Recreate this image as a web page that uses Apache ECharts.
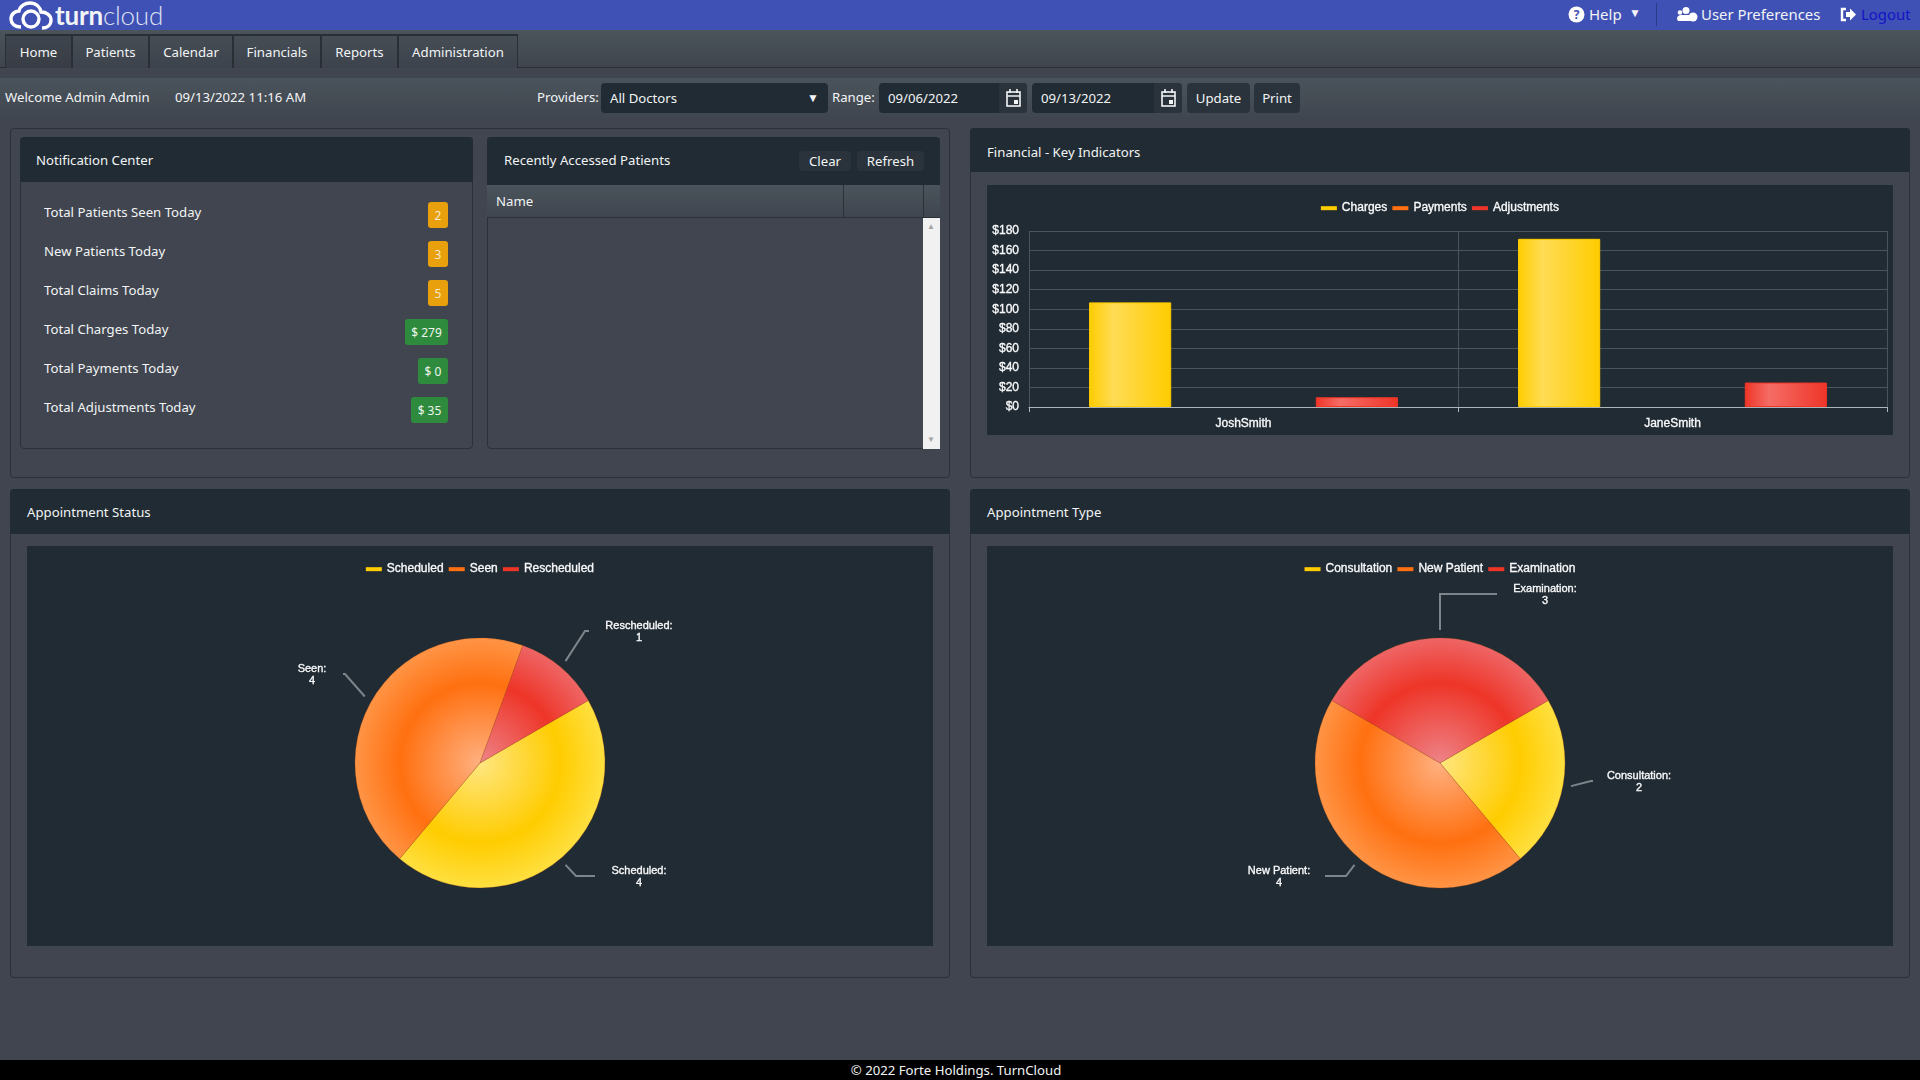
<!DOCTYPE HTML>
<html>
<head>
<meta charset="utf-8">
<title>TurnCloud Dashboard</title>
<script src="https://cdn.jsdelivr.net/npm/echarts@6/dist/echarts.min.js"></script>
<style>
html,body{margin:0;padding:0;width:1920px;height:1080px;overflow:hidden;background:#40454f;color:#f2f4f5;font:13.2px "Noto Sans",sans-serif}
div,span,a{position:absolute;white-space:nowrap;box-sizing:border-box}
span span{position:static}
.topbar{left:0;top:0;width:1920px;height:30px;background:#3f51b5}
.navbar{left:0;top:30px;width:1920px;height:38px;background:linear-gradient(#4b545b,#3f454d);border-bottom:1px solid #2a2f35}
.tab{top:34px;height:34px;line-height:33px;text-align:center;background:linear-gradient(#454d55,#3d434c);border:1px solid #2a2f35;border-top:2px solid #2a2f35;border-bottom:0}
.tab.on{background:linear-gradient(#3f454e,#383d45)}
.toolbar{left:0;top:78px;width:1920px;height:40px;background:linear-gradient(#4a535b,#40464f)}
.tlabel{top:84px;line-height:26px}
.field{top:83px;height:30px;line-height:30px;background:#212b33;border-radius:4px;padding-left:9px}
.btn{background:#2a333b;border-radius:4px;text-align:center}
.panel{border:1px solid #2c3138;border-radius:4px}
.head{background:#212b33;border-radius:4px 4px 0 0}
.title{line-height:20px}
.row{left:44px;line-height:20px}
.badge{height:26px;line-height:27px;border-radius:3px;text-align:center;font-size:12px;color:#f4ead0}
.org{background:#e8a00c;width:20px;left:428px}
.grn{background:#2e8b3d;color:#eef6ee}
.box{background:#212b33}
.footer{left:0;top:1060px;width:1920px;height:20px;background:#000;text-align:center;line-height:20px;padding-right:8px}
</style>
</head>
<body>
<div class="topbar"></div>
<svg style="position:absolute;left:9px;top:1px" width="46" height="30" viewBox="0 0 46 30" fill="none" stroke="#fff" stroke-width="3.4">
	<path d="M12 26 C5 26 2 22 2 18 C2 13 6 10 10 10 C11 5 16 2 21 2 C27 2 31 6 32 11 C37 11 42 14 42 19 C42 24 38 27 33 27"/>
	<circle cx="22" cy="18" r="8"/>
</svg>
<span style="left:55px;top:-2px;font-family:Lato;font-size:26px;line-height:34px;letter-spacing:-.2px"><span style="font-weight:700">turn</span><span style="font-weight:300;color:#dfe3f3">cloud</span></span>

<svg style="position:absolute;left:1568px;top:6px" width="17" height="17" viewBox="0 0 17 17"><circle cx="8.5" cy="8.5" r="8" fill="#fff"/><text x="8.5" y="13" text-anchor="middle" font-size="12" font-weight="700" font-family="Noto Sans" fill="#3f51b5">?</text></svg>
<span style="left:1589px;top:2px;font-size:15px;line-height:24px">Help</span>
<span style="left:1629px;top:3px;font-size:12px;line-height:20px">&#9660;</span>
<div style="left:1656px;top:3px;width:1px;height:23px;background:#2c3a8a"></div>
<svg style="position:absolute;left:1677px;top:7px" width="21" height="15" viewBox="0 0 21 15" fill="#fff"><circle cx="9" cy="3.5" r="3.5"/><circle cx="3" cy="5.5" r="2.3"/><path d="M0 12 C0 9 2 8 4 8 L14 8 C15 8 15 13 13 14 L1 14 Z"/><circle cx="16" cy="10" r="4.5"/></svg>
<span style="left:1701px;top:2px;font-size:14.9px;line-height:24px">User Preferences</span>
<svg style="position:absolute;left:1840px;top:7px" width="16" height="15" viewBox="0 0 16 15"><path d="M6 2 H2 V13 H6" fill="none" stroke="#fff" stroke-width="2.4"/><path d="M6 5 H10 V1.5 L16 7.5 L10 13.5 V10 H6 Z" fill="#fff"/></svg>
<a style="left:1861px;top:2px;font-size:14.9px;line-height:24px;color:#1414c8">Logout</a>

<div class="navbar"></div>
<div class="tab on" style="left:5px;width:67px">Home</div>
<div class="tab" style="left:72px;width:77px">Patients</div>
<div class="tab" style="left:149px;width:84px">Calendar</div>
<div class="tab" style="left:233px;width:88px">Financials</div>
<div class="tab" style="left:321px;width:77px">Reports</div>
<div class="tab" style="left:398px;width:120px">Administration</div>

<div class="toolbar"></div>
<span class="tlabel" style="left:5px">Welcome Admin Admin</span>
<span class="tlabel" style="left:175px">09/13/2022 11:16 AM</span>
<span class="tlabel" style="left:537px">Providers:</span>
<div class="field" style="left:601px;width:227px">All Doctors<span style="position:absolute;left:206px;top:0;font-size:12px">&#9660;</span></div>
<span class="tlabel" style="left:832px">Range:</span>
<div class="field" style="left:879px;width:148px">09/06/2022</div>
<div class="field" style="left:1032px;width:150px">09/13/2022</div>
<div style="left:999px;top:83px;width:28px;height:30px;background:#2a333b;border-radius:0 4px 4px 0"></div>
<div style="left:1154px;top:83px;width:28px;height:30px;background:#2a333b;border-radius:0 4px 4px 0"></div>
<svg style="position:absolute;left:1006px;top:89px" width="15" height="18" viewBox="0 0 15 18" fill="none" stroke="#f2f4f5" stroke-width="1.6"><rect x="1" y="3" width="13" height="14"/><path d="M1 7 H14 M4 0 V4 M11 0 V4"/><rect x="8" y="11" width="4" height="4" fill="#f2f4f5" stroke="none"/></svg>
<svg style="position:absolute;left:1161px;top:89px" width="15" height="18" viewBox="0 0 15 18" fill="none" stroke="#f2f4f5" stroke-width="1.6"><rect x="1" y="3" width="13" height="14"/><path d="M1 7 H14 M4 0 V4 M11 0 V4"/><rect x="8" y="11" width="4" height="4" fill="#f2f4f5" stroke="none"/></svg>
<div class="field btn" style="left:1187px;width:63px;padding:0">Update</div>
<div class="field btn" style="left:1254px;width:46px;padding:0">Print</div>

<!-- top left -->
<div class="panel" style="left:10px;top:128px;width:940px;height:350px"></div>
<div class="panel" style="left:20px;top:137px;width:453px;height:312px"></div>
<div class="head" style="left:20px;top:137px;width:453px;height:45px"></div>
<span class="title" style="left:36px;top:150px">Notification Center</span>
<span class="row" style="top:202px">Total Patients Seen Today</span>
<span class="row" style="top:241px">New Patients Today</span>
<span class="row" style="top:280px">Total Claims Today</span>
<span class="row" style="top:319px">Total Charges Today</span>
<span class="row" style="top:358px">Total Payments Today</span>
<span class="row" style="top:397px">Total Adjustments Today</span>
<div class="badge org" style="top:202px">2</div>
<div class="badge org" style="top:241px">3</div>
<div class="badge org" style="top:280px">5</div>
<div class="badge grn" style="top:319px;left:405px;width:43px">$ 279</div>
<div class="badge grn" style="top:358px;left:418px;width:30px">$ 0</div>
<div class="badge grn" style="top:397px;left:411px;width:37px">$ 35</div>

<div class="panel" style="left:487px;top:137px;width:453px;height:312px"></div>
<div class="head" style="left:487px;top:137px;width:453px;height:48px"></div>
<span class="title" style="left:504px;top:150px">Recently Accessed Patients</span>
<div class="btn" style="left:799px;top:151px;width:52px;height:20px;line-height:20px">Clear</div>
<div class="btn" style="left:857px;top:151px;width:67px;height:20px;line-height:20px">Refresh</div>
<div style="left:487px;top:185px;width:453px;height:33px;background:linear-gradient(#4a535b,#40464f);border-bottom:1px solid #2c3138"></div>
<div style="left:843px;top:185px;width:1px;height:33px;background:#2c3138"></div>
<div style="left:923px;top:185px;width:1px;height:33px;background:#2c3138"></div>
<span style="left:496px;top:191px;line-height:20px">Name</span>
<div style="left:923px;top:218px;width:17px;height:231px;background:#f1f1f1"></div>
<span style="left:927px;top:220px;font-size:8px;color:#a3a3a3;line-height:12px">&#9650;</span>
<span style="left:927px;top:433px;font-size:8px;color:#a3a3a3;line-height:12px">&#9660;</span>

<!-- top right -->
<div class="panel" style="left:970px;top:128px;width:940px;height:350px"></div>
<div class="head" style="left:970px;top:128px;width:940px;height:44px"></div>
<span class="title" style="left:987px;top:142px">Financial - Key Indicators</span>
<div id="financeChart" class="box" style="left:987px;top:185px;width:906px;height:250px"></div>

<!-- bottom -->
<div class="panel" style="left:10px;top:489px;width:940px;height:489px"></div>
<div class="head" style="left:10px;top:489px;width:940px;height:45px"></div>
<span class="title" style="left:27px;top:502px">Appointment Status</span>
<div id="statusChart" class="box" style="left:27px;top:546px;width:906px;height:400px"></div>

<div class="panel" style="left:970px;top:489px;width:940px;height:489px"></div>
<div class="head" style="left:970px;top:489px;width:940px;height:45px"></div>
<span class="title" style="left:987px;top:502px">Appointment Type</span>
<div id="typeChart" class="box" style="left:987px;top:546px;width:906px;height:400px"></div>

<div class="footer">&copy; 2022 Forte Holdings. TurnCloud</div>

<script type="text/javascript">
// financial chart
var doctors = ['JoshSmith', 'JaneSmith'];
var charges = [107, 172];
var payments = [0, 0];
var adjustments = [10, 25];
var financeNames = ['Charges', 'Payments', 'Adjustments'];

// appointment status
var statusNames = ['Scheduled', 'Seen', 'Rescheduled'];
var statusValues = [4, 4, 1];

// appointment type
var typeNames = ['Consultation', 'New Patient', 'Examination'];
var typeValues = [2, 4, 3];

// where the label sits and where its leader bends, relative to pie centre
var statusLabelAt = [[159, 114], [-168, -88], [159, -131]];
var statusBendAt = [[[96, 113], [115, 113]], [[-135, -89], [-137, -89]], [[105, -132], [109, -132]]];
var typeLabelAt = [[199, 19], [-161, 114], [105, -168]];
var typeBendAt = [[[151, 18], [153, 18]], [[-94, 113], [-115, 113]], [[0, -169], [57, -169]]];

var FONT = '"Liberation Sans", Arial, sans-serif';
var TEXT = {color: '#f8f9fa', fontFamily: FONT, textBorderColor: '#f8f9fa', textBorderWidth: 0.35};
var baseColors = ['#ffcc00', '#ff7010', '#ee3528'];
var lightColors = ['#ffdc55', '#ff9a55', '#f56c65'];
var centerColors = ['#ffe680', '#ffb080', '#ee8488'];
var rimColors = ['#ffe040', '#ff9445', '#ee6565'];

var PIE_R = 125, PIE_X = 453, PIE_Y = 217, START = 30;

function barGradient(i) {
	return {
		type: 'linear', x: 0, y: 0, x2: 1, y2: 0,
		colorStops: [
			{offset: 0, color: baseColors[i]},
			{offset: 0.3, color: lightColors[i]},
			{offset: 1, color: baseColors[i]}
		]
	};
}

function pieGradient(i) {
	return {
		type: 'radial', x: PIE_X, y: PIE_Y, r: PIE_R, global: true,
		colorStops: [
			{offset: 0, color: centerColors[i]},
			{offset: 0.64, color: baseColors[i]},
			{offset: 1, color: rimColors[i]}
		]
	};
}

function legendItems(names) {
	var items = [];
	for (var i = 0; i < names.length; i++) {
		items.push({name: names[i], itemStyle: {color: baseColors[i], borderWidth: 0}});
	}
	return items;
}

function legendOption(names) {
	return {
		top: 12, left: 'center', icon: 'rect',
		itemWidth: 16, itemHeight: 4, itemGap: 5,
		textStyle: Object.assign({fontSize: 12}, TEXT),
		data: legendItems(names)
	};
}

function makePie(domId, names, values, labelAt, bendAt) {
	var total = 0;
	for (var i = 0; i < values.length; i++) total += values[i];

	// mid angle of each slice, clockwise from 3 o'clock
	var midAngles = [];
	var acc = -START;
	for (var j = 0; j < values.length; j++) {
		var sweep = values[j] / total * 360;
		midAngles.push((acc + sweep / 2) * Math.PI / 180);
		acc += sweep;
	}

	var pieData = [];
	for (var k = 0; k < names.length; k++) {
		pieData.push({
			name: names[k], value: values[k],
			itemStyle: {color: pieGradient(k), borderColor: 'rgba(190,90,20,.45)', borderWidth: 0.6}
		});
	}

	var chart = echarts.init(document.getElementById(domId));
	chart.setOption({
		animation: false,
		legend: legendOption(names),
		series: [{
			type: 'pie',
			center: [PIE_X, PIE_Y],
			radius: PIE_R,
			startAngle: START,
			clockwise: true,
			avoidLabelOverlap: false,
			data: pieData,
			label: Object.assign({show: true, formatter: '{b}:\n{c}', fontSize: 11, lineHeight: 12, align: 'center'}, TEXT),
			labelLine: {show: true, lineStyle: {color: '#7d858a', width: 2}},
			labelLayout: function (params) {
				var n = params.dataIndex;
				var gap = PIE_R + 8;
				var toPie = function (p) { return [PIE_X + p[0], PIE_Y + p[1]]; };
				return {
					x: PIE_X + labelAt[n][0],
					y: PIE_Y + labelAt[n][1],
					align: 'center',
					verticalAlign: 'middle',
					labelLinePoints: [
						[PIE_X + Math.cos(midAngles[n]) * gap, PIE_Y + Math.sin(midAngles[n]) * gap],
						toPie(bendAt[n][0]),
						toPie(bendAt[n][1])
					]
				};
			},
			emphasis: {disabled: true}
		}]
	});
}

window.onload = function () {
	var barChart = echarts.init(document.getElementById('financeChart'));
	var seriesValues = [charges, payments, adjustments];
	var seriesList = [];
	for (var i = 0; i < financeNames.length; i++) {
		seriesList.push({
			name: financeNames[i], type: 'bar',
			barCategoryGap: '28%', barGap: '38%',
			itemStyle: {color: barGradient(i), borderColor: baseColors[i], borderWidth: seriesValues[i][0] ? 1 : 0},
			data: seriesValues[i]
		});
	}
	barChart.setOption({
		animation: false,
		legend: legendOption(financeNames),
		grid: {left: 42, right: 6, top: 46, height: 176},
		xAxis: {
			type: 'category', data: doctors,
			axisLine: {lineStyle: {color: '#aeb4b8', width: 1}},
			axisTick: {show: true, length: 5, lineStyle: {color: '#aeb4b8'}},
			axisLabel: Object.assign({fontSize: 12, margin: 11}, TEXT),
			splitLine: {show: true, lineStyle: {color: '#4a545b'}}
		},
		yAxis: {
			type: 'value', min: 0, max: 180, interval: 20,
			axisLine: {show: false}, axisTick: {show: false},
			axisLabel: Object.assign({fontSize: 12, margin: 10, padding: [2, 0, 0, 0], formatter: '${value}'}, TEXT),
			splitLine: {lineStyle: {color: '#4a545b'}}
		},
		series: seriesList
	});

	makePie('statusChart', statusNames, statusValues, statusLabelAt, statusBendAt);
	makePie('typeChart', typeNames, typeValues, typeLabelAt, typeBendAt);
};
</script>
</body>
</html>
